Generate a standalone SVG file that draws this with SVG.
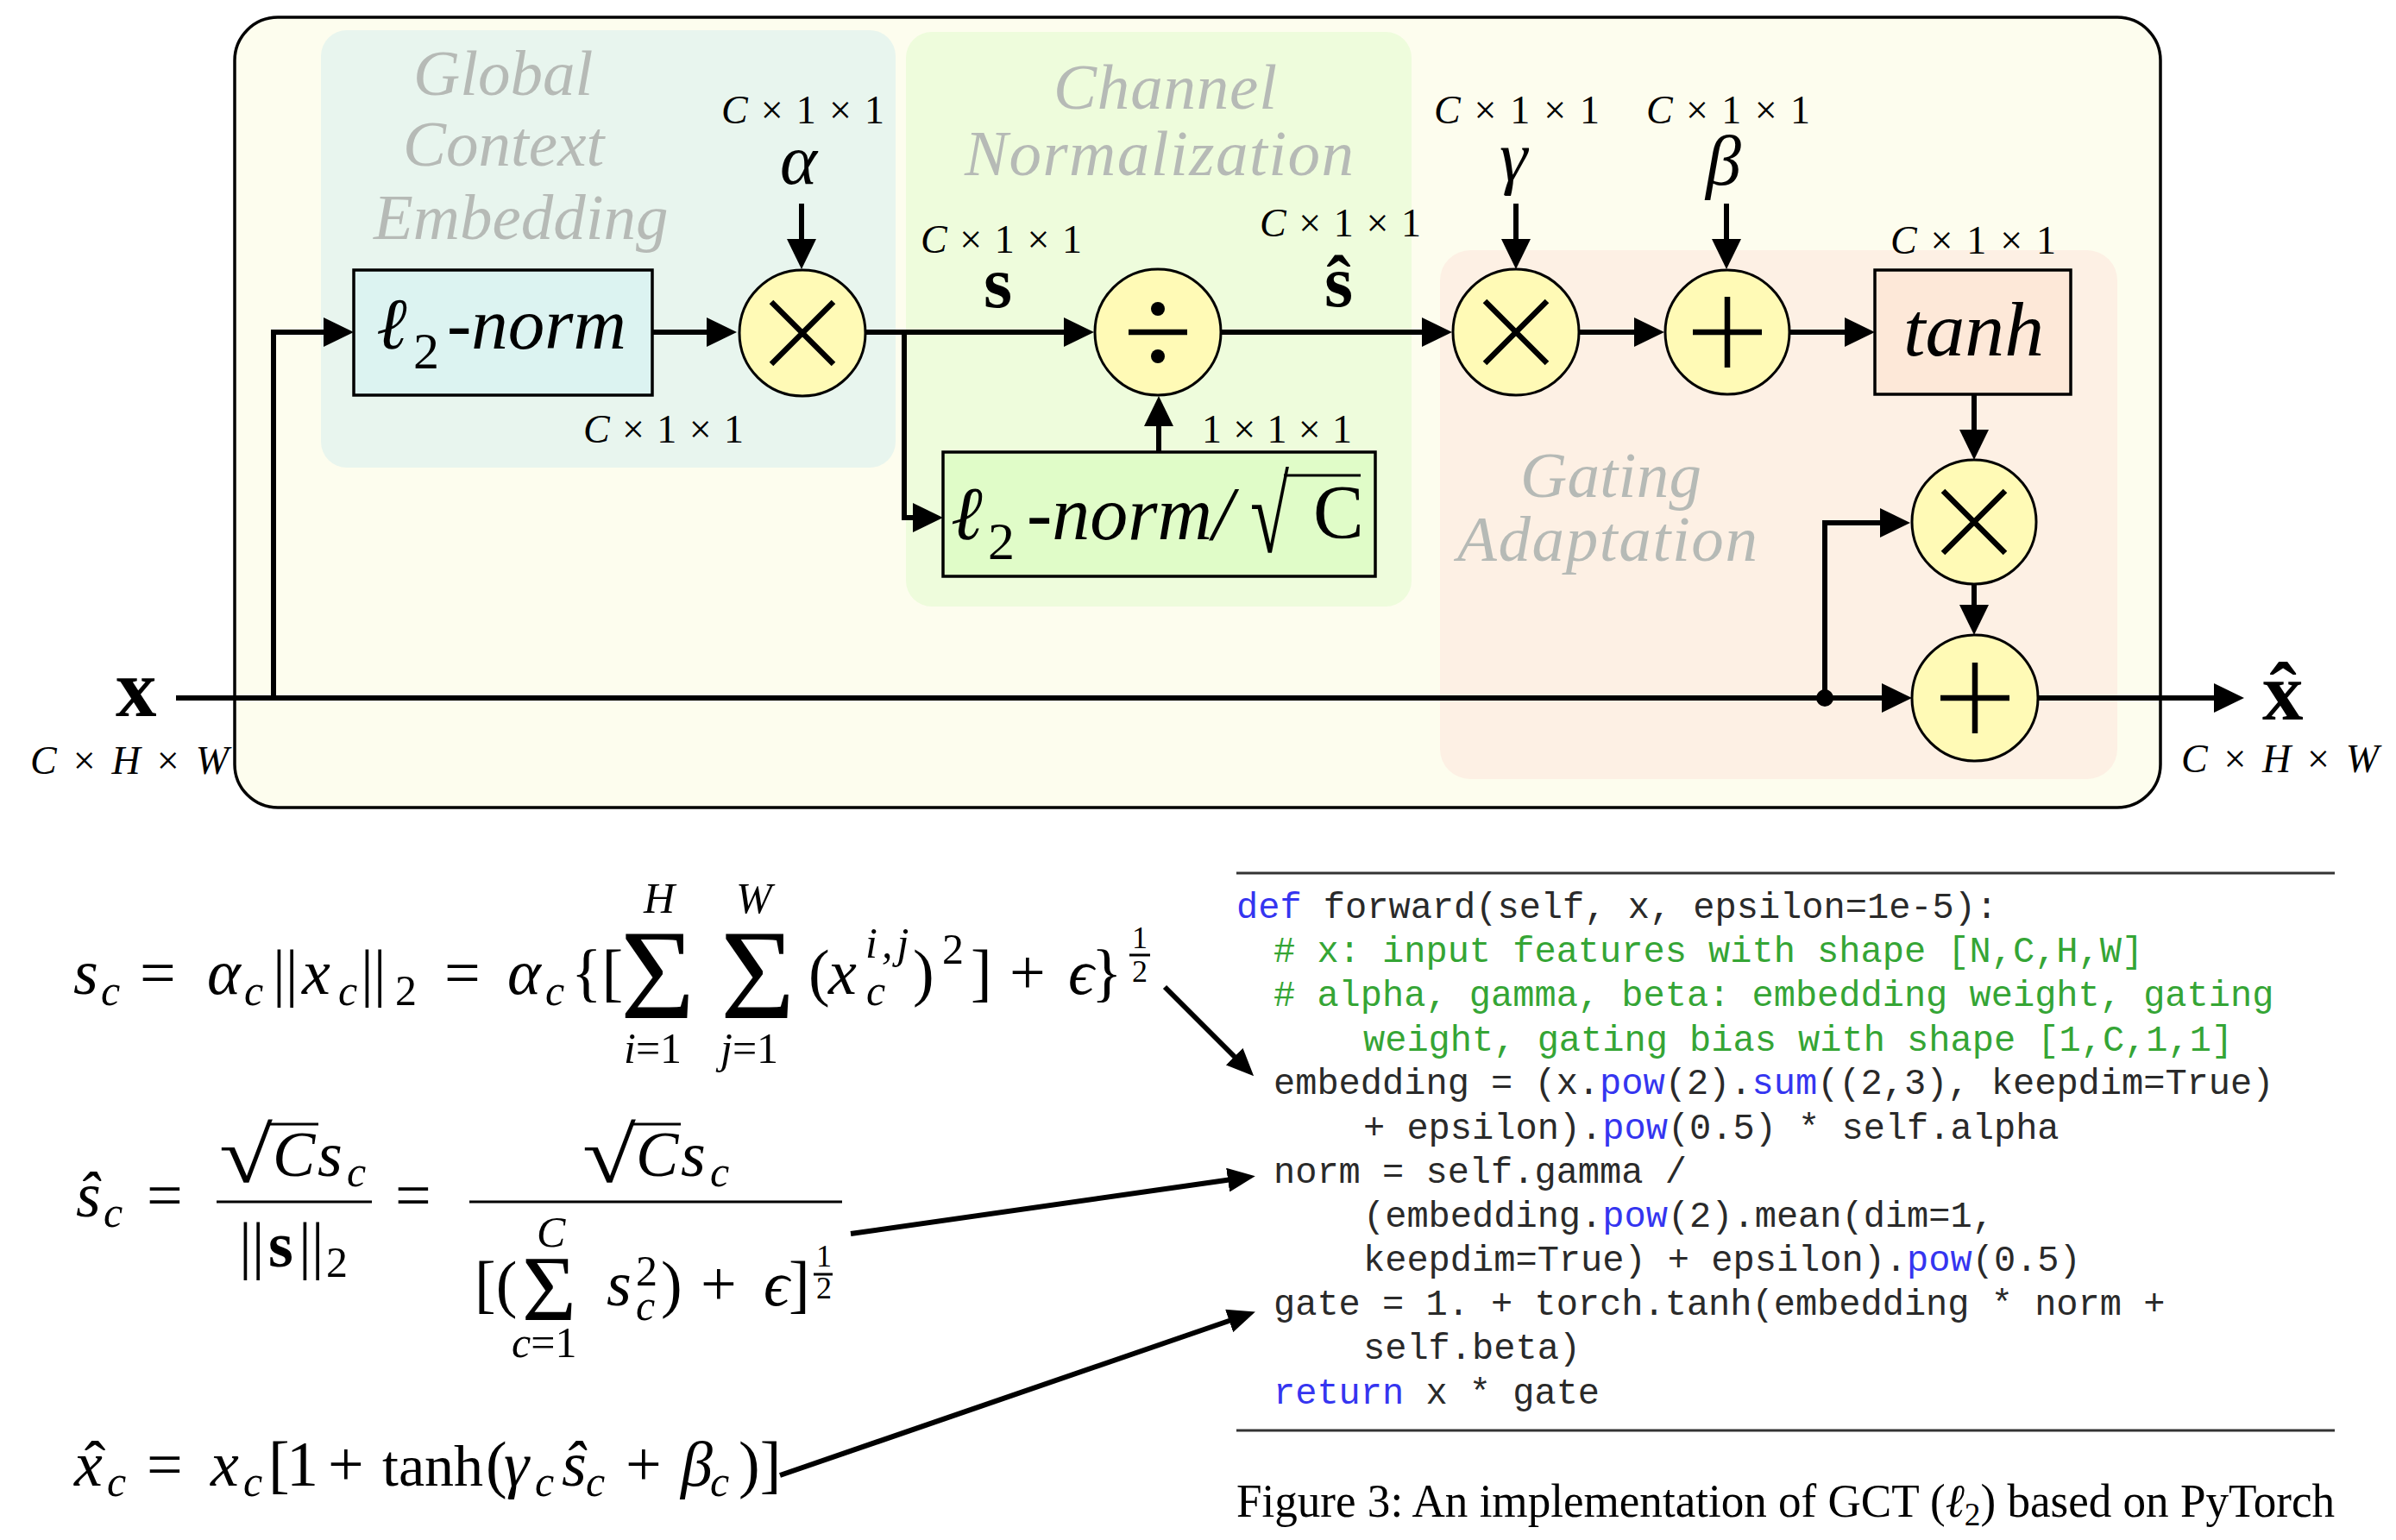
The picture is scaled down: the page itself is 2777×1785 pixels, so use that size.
<svg xmlns="http://www.w3.org/2000/svg" width="2777" height="1785" viewBox="0 0 2777 1785">
<defs>
<style>
.conn path{fill:none;stroke:#000;stroke-width:6;marker-end:url(#ah)}
.barr path{fill:none;stroke:#000;stroke-width:6;marker-end:url(#ah2)}
.op{fill:#fffab6;stroke:#000;stroke-width:3}
.sym{stroke:#000;stroke-width:6.5;fill:none}
.box{stroke:#000;stroke-width:3.5}
.gray{font-family:"Liberation Serif",serif;font-style:italic;font-size:75px;fill:#b6bab6}
.dim{font-family:"Liberation Serif",serif;font-size:46px;fill:#000}
.it{font-style:italic}
.bf{font-weight:bold}
.lbl{font-family:"Liberation Serif","DejaVu Serif",serif;fill:#000}
.math{font-family:"Liberation Serif","DejaVu Serif",serif;font-size:74px;fill:#000}
.sm{font-size:50px}
.frac{font-family:"Liberation Serif",serif;font-size:36px;fill:#000}
.code{font-family:"Liberation Mono",monospace;font-size:42px;fill:#2a2a2a}
.kw{fill:#3535f0}
.cm{fill:#35a535}
.rule{stroke:#333;stroke-width:3}
.bar{stroke:#000;stroke-width:3}
</style>
<marker id="ah" markerUnits="userSpaceOnUse" markerWidth="36" markerHeight="34" viewBox="0 0 36 34" refX="12" refY="17" orient="auto"><path d="M0,0 L35,17 L0,34 z" fill="#000"/></marker>
<marker id="ah2" markerUnits="userSpaceOnUse" markerWidth="33" markerHeight="28" viewBox="0 0 33 28" refX="12" refY="14" orient="auto"><path d="M0,0 L32,14 L0,28 z" fill="#000"/></marker>
</defs>
<rect width="2777" height="1785" fill="#fff"/>

<g id="frame">
<rect x="272" y="20" width="2232" height="916" rx="50" fill="#fdfdee" stroke="#000" stroke-width="3.5"/>
</g>
<g id="region-gce">
<rect x="372" y="35" width="666" height="507" rx="30" fill="#e8f5ee"/>
<text class="gray" x="479" y="110">Global</text>
<text class="gray" x="467" y="192">Context</text>
<text class="gray" x="433" y="277">Embedding</text>
</g>
<g id="region-cn">
<rect x="1050" y="37" width="586" height="666" rx="30" fill="#eefcdc"/>
<text class="gray" x="1221" y="126" textLength="259" lengthAdjust="spacing">Channel</text>
<text class="gray" x="1118" y="203" textLength="451" lengthAdjust="spacing">Normalization</text>
</g>
<g id="region-ga">
<rect x="1669" y="290" width="785" height="613" rx="35" fill="#fdf0e4"/>
<text class="gray" x="1762" y="576" textLength="210" lengthAdjust="spacing">Gating</text>
<text class="gray" x="1689" y="650" textLength="348" lengthAdjust="spacing">Adaptation</text>
</g>

<g class="conn" id="connectors">
<path d="M204,809 H2193"/>
<path d="M2363,809 H2578"/>
<path d="M317,809 V385 H387"/>
<path d="M756,385 H831"/>
<path d="M1003,385 H1245"/>
<path d="M1048,385 V600 H1070"/>
<path d="M1343,524 V482"/>
<path d="M1415,385 H1660"/>
<path d="M929,236 V289"/>
<path d="M1757,236 V289"/>
<path d="M2001,236 V289"/>
<path d="M1830,385 H1906"/>
<path d="M2075,385 H2150"/>
<path d="M2288,457 V510"/>
<path d="M2288,677 V713"/>
<path d="M2115,809 V606 H2191"/>
<circle cx="2115" cy="809" r="10" fill="#000" stroke="none"/>
</g>

<g id="l2norm">
<rect class="box" x="410" y="313" width="346" height="145" fill="#dcf3f1"/>
<text class="lbl it" font-size="85"><tspan x="436" y="404">ℓ</tspan><tspan x="479" y="427" font-size="60" font-style="normal">2</tspan><tspan x="518" y="404">-norm</tspan></text>
</g>
<g id="mult1">
<circle class="op" cx="930" cy="386" r="73"/>
<path class="sym" d="M894,350 L966,422 M966,350 L894,422"/>
</g>
<g id="divide">
<circle class="op" cx="1342" cy="385" r="73"/>
<path class="sym" d="M1308,385 H1376" stroke-width="8"/>
<circle cx="1342" cy="358" r="8"/>
<circle cx="1342" cy="413" r="8"/>
</g>
<g id="l2norm-sqrtC">
<rect class="box" x="1093" y="524" width="501" height="144" fill="#e0fcc8"/>
<text class="lbl it" font-size="88"><tspan x="1102" y="625">ℓ</tspan><tspan x="1145" y="648" font-size="62" font-style="normal">2</tspan><tspan x="1190" y="625">-norm/</tspan><tspan x="1522" y="623" font-style="normal">C</tspan></text>
<text class="lbl" x="1449" y="640" font-size="125" textLength="45" lengthAdjust="spacingAndGlyphs">√</text>
<line class="bar" x1="1488" y1="551" x2="1577" y2="551" stroke-width="4"/>
</g>
<g id="mult-gamma">
<circle class="op" cx="1757" cy="385" r="73"/>
<path class="sym" d="M1721,349 L1793,421 M1793,349 L1721,421"/>
</g>
<g id="add-beta">
<circle class="op" cx="2002" cy="385" r="72"/>
<path class="sym" d="M1962,385 H2042 M2002,344 V426"/>
</g>
<g id="tanh">
<rect class="box" x="2173" y="313" width="227" height="144" fill="#fde8d8"/>
<text class="lbl it" x="2206" y="412" font-size="88" textLength="163" lengthAdjust="spacingAndGlyphs">tanh</text>
</g>
<g id="mult2">
<circle class="op" cx="2288" cy="605" r="72"/>
<path class="sym" d="M2252,569 L2324,641 M2324,569 L2252,641"/>
</g>
<g id="add2">
<circle class="op" cx="2289" cy="809" r="73"/>
<path class="sym" d="M2249,809 H2329 M2289,768 V850"/>
</g>

<g id="labels">
<text class="dim" x="836" y="143" textLength="189" lengthAdjust="spacing"><tspan class="it">C</tspan> × 1 × 1</text>
<text class="lbl it" x="904" y="213" font-size="82">α</text>
<text class="dim" x="676" y="513" textLength="186" lengthAdjust="spacing"><tspan class="it">C</tspan> × 1 × 1</text>
<text class="dim" x="1067" y="293" textLength="187" lengthAdjust="spacing"><tspan class="it">C</tspan> × 1 × 1</text>
<text class="lbl bf" x="1140" y="356" font-size="85">s</text>
<text class="dim" x="1460" y="274" textLength="187" lengthAdjust="spacing"><tspan class="it">C</tspan> × 1 × 1</text>
<text class="lbl bf" x="1535" y="355" font-size="85">ŝ</text>
<text class="dim" x="1393" y="513" textLength="174" lengthAdjust="spacing">1 × 1 × 1</text>
<text class="dim" x="1662" y="143" textLength="192" lengthAdjust="spacing"><tspan class="it">C</tspan> × 1 × 1</text>
<text class="lbl it" x="1738" y="209" font-size="82">γ</text>
<text class="dim" x="1908" y="143" textLength="190" lengthAdjust="spacing"><tspan class="it">C</tspan> × 1 × 1</text>
<text class="lbl it" x="1977" y="214" font-size="82">β</text>
<text class="dim" x="2191" y="294" textLength="192" lengthAdjust="spacing"><tspan class="it">C</tspan> × 1 × 1</text>
<text class="lbl bf" x="134" y="830" font-size="95">x</text>
<text class="dim" x="35" y="897" textLength="230" lengthAdjust="spacing"><tspan class="it">C</tspan> × <tspan class="it">H</tspan> × <tspan class="it">W</tspan></text>
<text class="lbl bf" x="2622" y="834" font-size="95">x</text>
<text class="lbl bf" x="2646" y="834" font-size="95" text-anchor="middle">ˆ</text>
<text class="dim" x="2528" y="895" textLength="229" lengthAdjust="spacing"><tspan class="it">C</tspan> × <tspan class="it">H</tspan> × <tspan class="it">W</tspan></text>
</g>

<g id="eq1">
<text class="math">
<tspan x="85" y="1152" class="it">s</tspan><tspan x="117" y="1165" class="it sm">c</tspan>
<tspan x="162" y="1152">=</tspan>
<tspan x="240" y="1152" class="it">α</tspan><tspan x="283" y="1165" class="it sm">c</tspan>
<tspan x="316" y="1152">||</tspan><tspan x="350" y="1152" class="it">x</tspan><tspan x="392" y="1165" class="it sm">c</tspan>
<tspan x="418" y="1152">||</tspan><tspan x="458" y="1165" class="sm">2</tspan>
<tspan x="515" y="1152">=</tspan>
<tspan x="588" y="1152" class="it">α</tspan><tspan x="632" y="1165" class="it sm">c</tspan>
<tspan x="662" y="1152">{[</tspan>
<tspan x="719" y="1180" font-size="148">Σ</tspan>
<tspan x="835" y="1180" font-size="148">Σ</tspan>
<tspan x="937" y="1152">(</tspan><tspan x="960" y="1152" class="it">x</tspan><tspan x="1003" y="1110" class="it sm" letter-spacing="5">i,j</tspan><tspan x="1004" y="1165" class="it sm">c</tspan>
<tspan x="1058" y="1152">)</tspan><tspan x="1092" y="1117" class="sm">2</tspan>
<tspan x="1125" y="1152">]</tspan>
<tspan x="1170" y="1152">+</tspan>
<tspan x="1238" y="1152" class="it">ϵ</tspan>
<tspan x="1265" y="1152">}</tspan>
</text>
<text class="math sm"><tspan x="746" y="1058" class="it">H</tspan><tspan x="853" y="1058" class="it">W</tspan><tspan x="723" y="1232" class="it">i</tspan><tspan>=1</tspan><tspan x="835" y="1232" class="it">j</tspan><tspan>=1</tspan></text>
<text class="frac" x="1312" y="1099">1</text>
<text class="frac" x="1312" y="1138">2</text>
<line class="bar" x1="1309" y1="1107" x2="1333" y2="1107" stroke-width="2.5"/>
</g>

<g id="eq2">
<text class="math">
<tspan x="88" y="1410" class="it">ŝ</tspan><tspan x="120" y="1422" class="it sm">c</tspan>
<tspan x="170" y="1410">=</tspan>
<tspan x="316" y="1363" class="it">C</tspan><tspan x="368" y="1363" class="it">s</tspan><tspan x="402" y="1375" class="it sm">c</tspan>
<tspan x="277" y="1468">||</tspan><tspan x="311" y="1468" class="bf">s</tspan><tspan x="346" y="1468">||</tspan><tspan x="378" y="1480" class="sm">2</tspan>
<tspan x="458" y="1410">=</tspan>
<tspan x="737" y="1363" class="it">C</tspan><tspan x="789" y="1363" class="it">s</tspan><tspan x="823" y="1375" class="it sm">c</tspan>
<tspan x="550" y="1513">[(</tspan>
<tspan x="605" y="1530" font-size="108">Σ</tspan>
<tspan x="703" y="1513" class="it">s</tspan><tspan x="737" y="1490" class="sm">2</tspan><tspan x="737" y="1530" class="it sm">c</tspan>
<tspan x="766" y="1513">)</tspan><tspan x="812" y="1513">+</tspan><tspan x="885" y="1513" class="it">ϵ</tspan><tspan x="914" y="1513">]</tspan>
</text>
<text class="lbl" x="254" y="1370" font-size="92" textLength="62" lengthAdjust="spacingAndGlyphs">√</text>
<text class="lbl" x="675" y="1370" font-size="92" textLength="62" lengthAdjust="spacingAndGlyphs">√</text>
<text class="math sm"><tspan x="622" y="1445" class="it">C</tspan><tspan x="593" y="1573" class="it">c</tspan><tspan>=1</tspan></text>
<text class="frac" x="946" y="1468">1</text>
<text class="frac" x="946" y="1505">2</text>
<line class="bar" x1="943" y1="1477" x2="965" y2="1477" stroke-width="2.5"/>
<line class="bar" x1="311" y1="1303" x2="369" y2="1303"/>
<line class="bar" x1="732" y1="1303" x2="789" y2="1303"/>
<line class="bar" x1="251" y1="1393" x2="431" y2="1393"/>
<line class="bar" x1="544" y1="1393" x2="976" y2="1393"/>
</g>

<g id="eq3">
<text class="math">
<tspan x="86" y="1722" class="it">x</tspan><tspan x="124" y="1734" class="it sm">c</tspan>
<tspan x="170" y="1722">=</tspan>
<tspan x="244" y="1722" class="it">x</tspan><tspan x="282" y="1734" class="it sm">c</tspan>
<tspan x="311" y="1722">[</tspan><tspan x="332" y="1722">1</tspan><tspan x="380" y="1722">+</tspan><tspan x="443" y="1722" font-size="68">tanh</tspan><tspan x="563" y="1722">(</tspan>
<tspan x="584" y="1722" class="it">γ</tspan><tspan x="620" y="1734" class="it sm">c</tspan>
<tspan x="651" y="1722" class="it">ŝ</tspan><tspan x="679" y="1734" class="it sm">c</tspan>
<tspan x="725" y="1722">+</tspan>
<tspan x="789" y="1722" class="it">β</tspan><tspan x="823" y="1734" class="it sm">c</tspan>
<tspan x="856" y="1722">)]</tspan>
</text>
<text class="math" x="110" y="1722" text-anchor="middle">ˆ</text>
</g>

<g class="barr" id="eq-arrows">
<path d="M1350,1144 L1439,1233"/>
<path d="M986,1430 L1435,1366"/>
<path d="M904,1710 L1436,1527"/>
</g>

<g id="code">
<line class="rule" x1="1433" y1="1012" x2="2706" y2="1012"/>
<text class="code" xml:space="preserve" x="1433" y="1064"><tspan class="kw">def</tspan> forward(self, x, epsilon=1e-5):</text>
<text class="code cm" xml:space="preserve" x="1476" y="1115"># x: input features with shape [N,C,H,W]</text>
<text class="code cm" xml:space="preserve" x="1476" y="1166"># alpha, gamma, beta: embedding weight, gating</text>
<text class="code cm" xml:space="preserve" x="1580" y="1218">weight, gating bias with shape [1,C,1,1]</text>
<text class="code" xml:space="preserve" x="1476" y="1268">embedding = (x.<tspan class="kw">pow</tspan>(2).<tspan class="kw">sum</tspan>((2,3), keepdim=True)</text>
<text class="code" xml:space="preserve" x="1580" y="1320">+ epsilon).<tspan class="kw">pow</tspan>(0.5) * self.alpha</text>
<text class="code" xml:space="preserve" x="1476" y="1371">norm = self.gamma /</text>
<text class="code" xml:space="preserve" x="1580" y="1422">(embedding.<tspan class="kw">pow</tspan>(2).mean(dim=1,</text>
<text class="code" xml:space="preserve" x="1580" y="1473">keepdim=True) + epsilon).<tspan class="kw">pow</tspan>(0.5)</text>
<text class="code" xml:space="preserve" x="1476" y="1524">gate = 1. + torch.tanh(embedding * norm +</text>
<text class="code" xml:space="preserve" x="1580" y="1575">self.beta)</text>
<text class="code" xml:space="preserve" x="1476" y="1627"><tspan class="kw">return</tspan> x * gate</text>
<line class="rule" x1="1433" y1="1658" x2="2706" y2="1658"/>
</g>

<g id="caption">
<text class="lbl" x="1433" y="1758" font-size="54" textLength="1273" lengthAdjust="spacingAndGlyphs">Figure 3: An implementation of GCT (<tspan class="it">ℓ</tspan><tspan font-size="38" dy="10">2</tspan><tspan dy="-10">) based on PyTorch</tspan></text>
</g>
</svg>
